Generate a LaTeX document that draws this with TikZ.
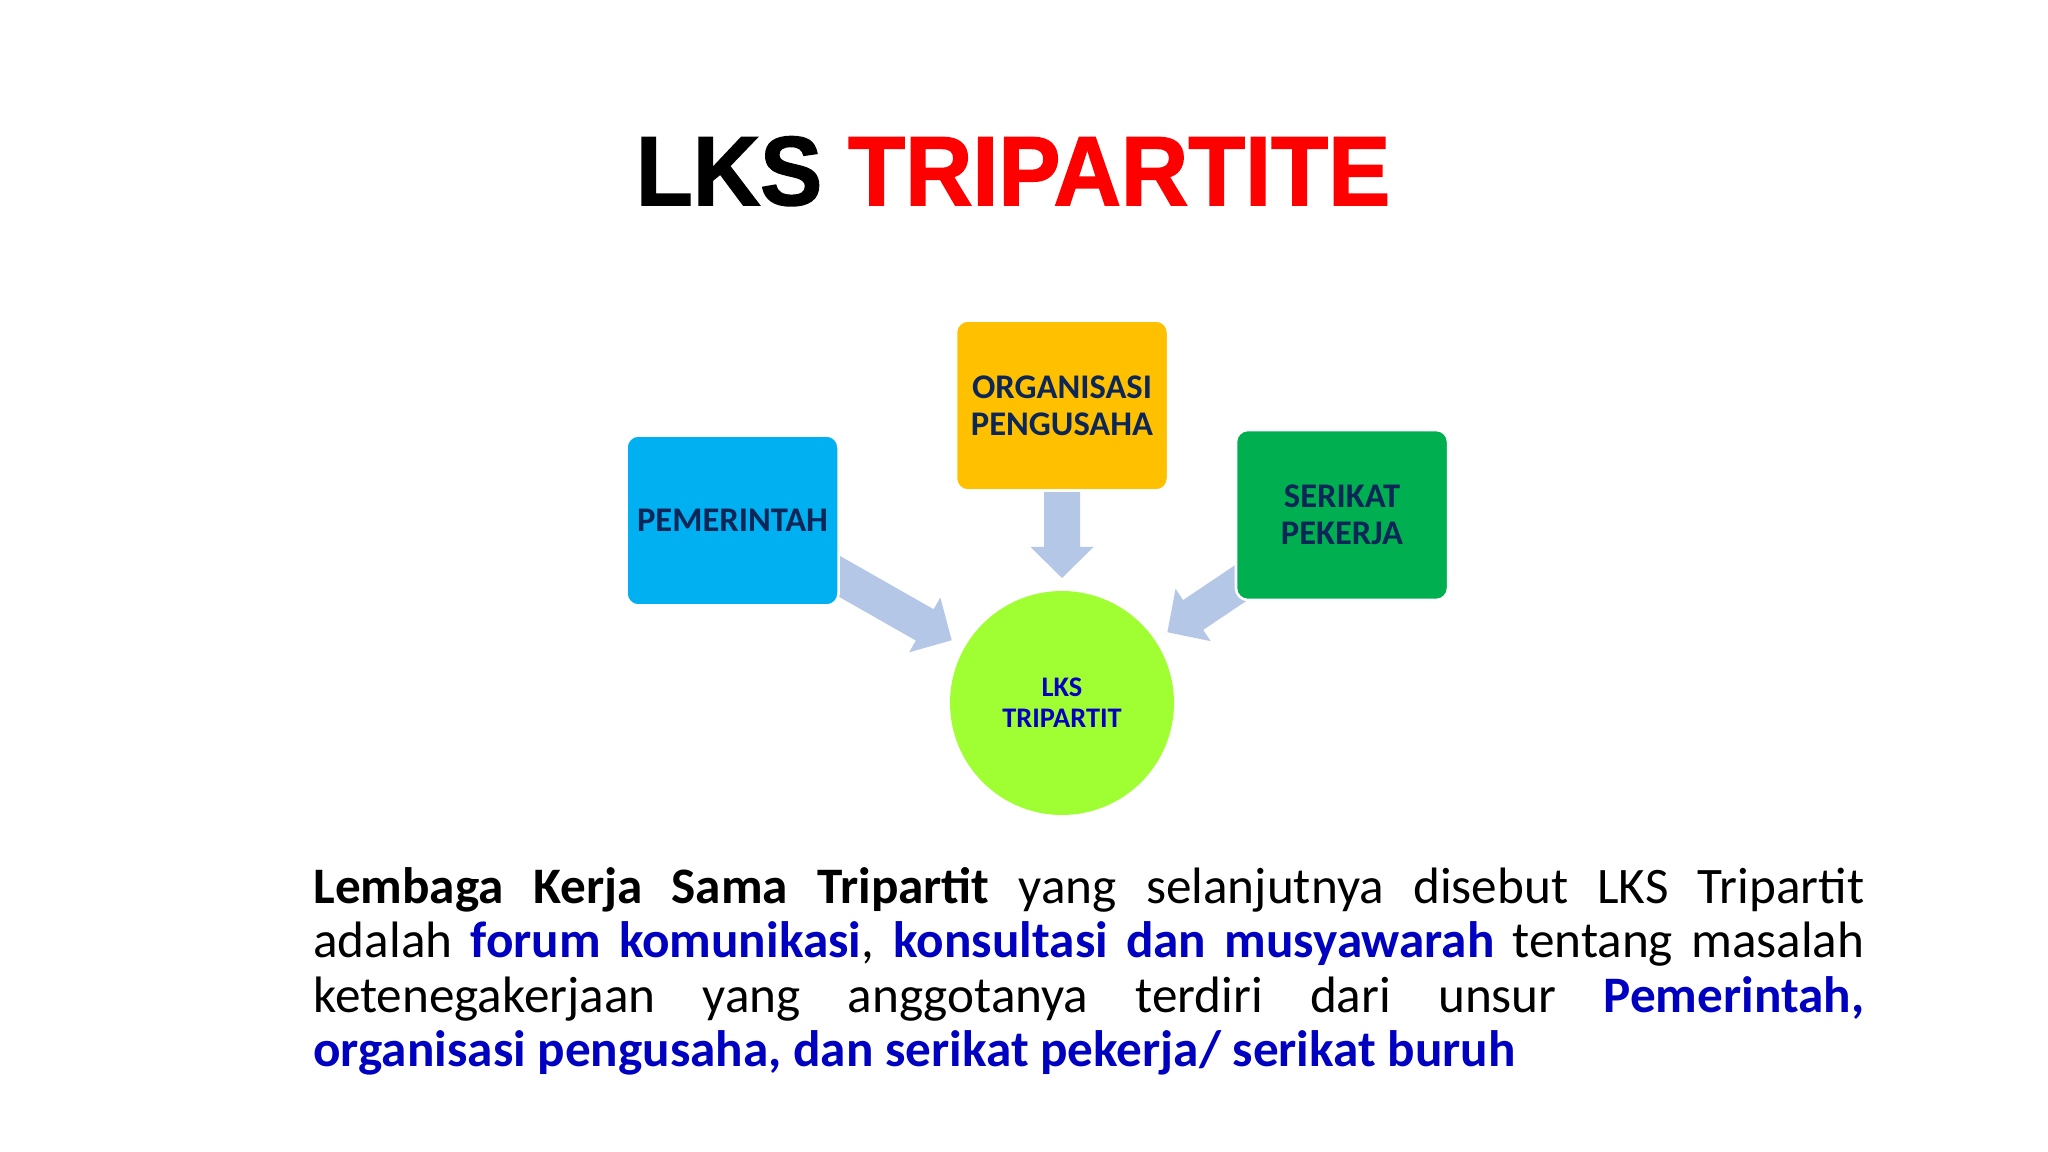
\documentclass[tikz,border=0pt]{standalone}
\usepackage{fontspec}
\usepackage{graphicx}
\setmainfont{Carlito}
\newfontfamily\titlefont{Liberation Sans}[FakeBold=1.6]
\usetikzlibrary{calc,backgrounds}
\definecolor{arrowblue}{HTML}{B4C7E7}
\definecolor{boxblue}{HTML}{00B0F0}
\definecolor{boxorange}{HTML}{FFC000}
\definecolor{boxgreen}{HTML}{00B050}
\definecolor{circlegreen}{HTML}{A0FF32}
\definecolor{boxtext}{HTML}{0C2657}
\definecolor{txtblue}{HTML}{0000C0}
\definecolor{titlered}{HTML}{FF0000}
\newcommand\blkarrow[2]{%
  \coordinate (#1h) at ($(#2)!14.53pt!(#1)$);
  \fill[arrowblue] ($(#1)!8.44pt!90:(#2)$) -- ($(#1h)!8.44pt!90:(#2)$)
     -- ($(#1h)!14.77pt!90:(#2)$) -- (#2) -- ($(#1h)!14.77pt!-90:(#2)$)
     -- ($(#1h)!8.44pt!-90:(#2)$) -- ($(#1)!8.44pt!-90:(#2)$) -- cycle;}
\tikzset{
  boxnode/.style={rounded corners=5.6pt, draw=white, line width=1.2pt,
    minimum width=99.4pt, minimum height=79.7pt, inner sep=0pt, text=boxtext,
    align=center, font=\bfseries\fontsize{16.2}{17.4}\selectfont},
  hubnode/.style={circle, fill=circlegreen, minimum size=105pt, inner sep=0pt,
    text=txtblue, align=center, font=\bfseries\fontsize{13.3}{14.6}\selectfont},
}
\begin{document}
\begin{tikzpicture}[x=0.46875pt,y=-0.46875pt]
\useasboundingbox (0,0) rectangle (2048,1152);
\node[anchor=base, inner sep=0pt] (title) at (1013,205)
  {\scalebox{0.95}[1]{\titlefont\bfseries\fontsize{46}{50}\selectfont LKS \textcolor{titlered}{TRIPARTITE}}};
\node[boxnode, fill=boxblue] (pem) at (732.5,520.5) {PEMERINTAH};
\node[boxnode, fill=boxorange] (org) at (1062,405.5) {ORGANISASI\\PENGUSAHA};
\node[boxnode, fill=boxgreen] (ser) at (1342,515) {SERIKAT\\PEKERJA};
\node[hubnode] (lks) at (1062,703) {LKS\\TRIPARTIT};
\coordinate (as1) at (823,567);
\coordinate (as2) at (1062,470);
\coordinate (as3) at (1278,558);
\begin{pgfonlayer}{background}
\fill[white] (0,0) rectangle (2048,1152);
\coordinate (at1) at ($(lks.center)!59.5pt!(as1)$);
\coordinate (at2) at ($(lks.center)!58.6pt!(as2)$);
\coordinate (at3) at ($(lks.center)!59.5pt!(as3)$);
\blkarrow{as1}{at1}
\blkarrow{as2}{at2}
\blkarrow{as3}{at3}
\end{pgfonlayer}
\node[anchor=base west, inner sep=0pt, text width=727pt, align=justify,
  font=\fontsize{24}{25.6}\selectfont] (para) at (313,903)
  {\tolerance=10000\hyphenpenalty=10000
   \textbf{Lembaga Kerja Sama Tripartit} yang selanjutnya disebut LKS Tripartit\linebreak
   adalah \textcolor{txtblue}{\textbf{forum komunikasi}}, \textcolor{txtblue}{\textbf{konsultasi dan musyawarah}} tentang masalah\linebreak
   ketenegakerjaan yang anggotanya terdiri dari unsur \textcolor{txtblue}{\textbf{Pemerintah,}}\linebreak
   \textcolor{txtblue}{\textbf{organisasi pengusaha, dan serikat pekerja/ serikat buruh}}};
\end{tikzpicture}
\end{document}
